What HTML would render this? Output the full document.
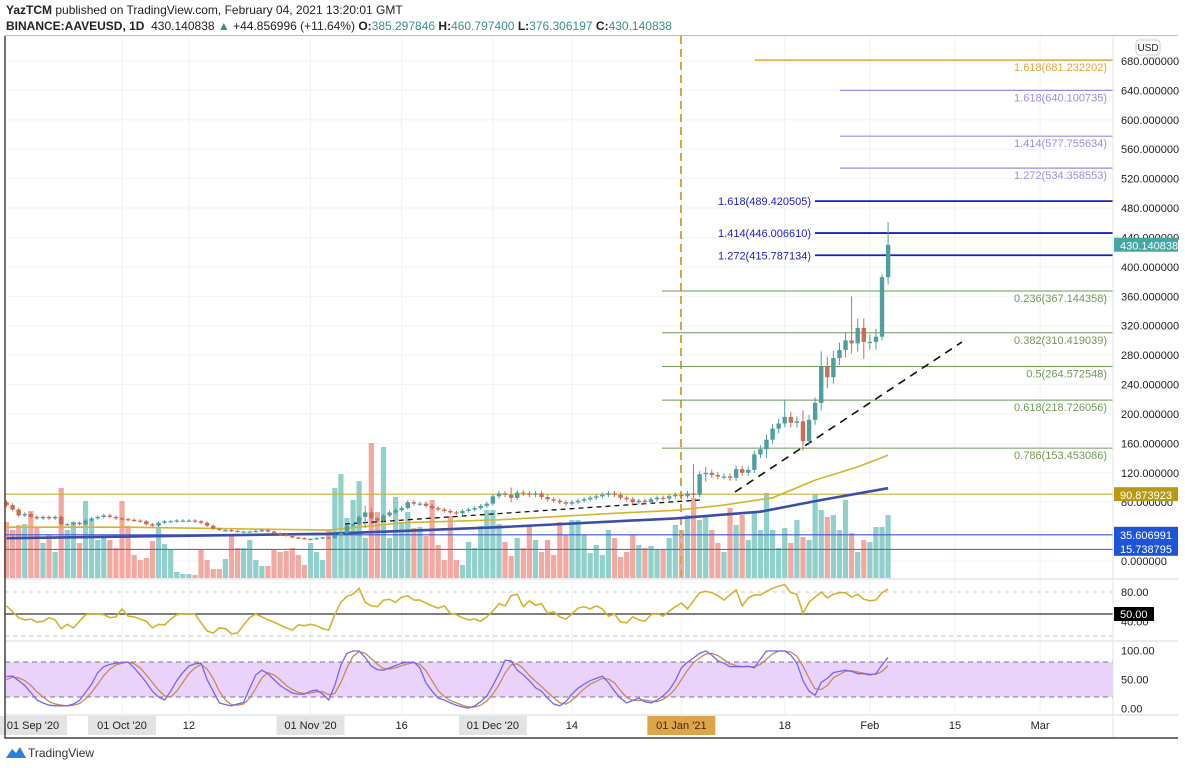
<!DOCTYPE html>
<html><head><meta charset="utf-8"><style>
body{margin:0;background:#fff;width:1185px;height:768px;overflow:hidden;font-family:"Liberation Sans",sans-serif}
#hdr1{position:absolute;left:6px;top:3px;font-size:12px;color:#222}
#hdr2{position:absolute;left:6px;top:19px;font-size:12px;color:#222}
.tv{color:#3a8f8c}
svg{position:absolute;left:0;top:0}
</style></head><body>
<div id="hdr1"><b>YazTCM</b> published on TradingView.com, February 04, 2021 13:20:01 GMT</div>
<div id="hdr2"><b>BINANCE:AAVEUSD, 1D</b>&nbsp; 430.140838 <span class="tv">▲</span> +44.856996 (+11.64%) <b>O:</b><span class="tv">385.297846</span> <b>H:</b><span class="tv">460.797400</span> <b>L:</b><span class="tv">376.306197</span> <b>C:</b><span class="tv">430.140838</span></div>
<svg id="chart" width="1185" height="768"></svg>
<script>
const closes=[76,70,62,64,60,58,60,58,60,50, 50,52,50,55,58,60,62,60,58,57, 56,55,54,50,48,52,54,54,55,55, 55,54,52,48,44,42,42,41,40,40, 40,41,42,40,38,36,34,32,31,30, 30,31,32,31,35,38,48,50,60,66, 58,55,62,66,69,72,80,78,78,75, 72,70,68,66,65,68,70,72,75,78, 88,92,90,86,93,92,90,92,87,84, 82,80,78,80,82,84,86,88,90,92, 90,86,84,80,82,80,84,86,85,88, 90,88,92,90,118,120,117,115,115,113, 125,120,124,145,152,165,180,187,196,188, 190,163,192,215,265,250,276,287,300,296, 317,298,298,305,386,430];
const volumes=[56,48,53,54,67,51,35,43,26,90, 48,56,35,77,58,38,40,38,30,77, 52,23,18,20,37,50,34,29,6,4, 4,3,28,18,9,9,19,42,30,30, 38,18,12,12,28,26,27,30,23,13, 35,26,18,48,90,104,60,78,97,40, 135,66,131,40,81,56,66,50,51,42, 78,33,18,62,18,13,36,30,52,68, 68,54,36,22,40,30,53,38,26,38, 23,56,43,58,58,43,25,33,23,48, 40,21,26,43,33,30,32,29,28,40, 53,48,63,80,58,62,48,35,26,70, 53,63,38,66,48,85,48,30,50,35, 58,41,38,84,68,61,63,48,78,45, 26,38,36,51,51,63];
const rsi=[61,53,45,42,43,39,40,45,42,30, 36,31,40,49,50,50,49,45,46,57, 47,46,43,40,31,36,35,43,49,50, 50,50,38,27,24,31,30,23,24,35, 45,50,46,42,39,35,31,28,35,34, 36,34,30,28,49,66,74,77,85,66, 61,60,69,70,66,73,75,69,69,65, 61,58,61,51,49,45,42,43,40,46, 54,64,61,75,77,60,68,62,64,51, 53,46,43,50,58,60,57,61,57,47, 50,39,38,46,42,40,49,51,47,54, 60,65,57,68,79,81,79,75,69,76, 83,61,72,76,76,81,85,88,90,79, 77,51,66,73,80,72,77,79,79,73, 77,70,68,69,79,84];
const stochK=[55,56,48,40,28,15,10,6,5,5, 5,8,14,28,42,62,72,76,78,80, 80,70,58,45,30,20,15,30,48,62, 73,77,78,50,30,10,7,5,8,11, 35,58,66,60,50,40,33,27,25,25, 30,32,25,15,40,75,95,99,99,88, 73,67,66,70,74,78,80,80,70,44, 30,18,15,10,6,3,1,5,12,22, 40,60,83,82,66,58,48,36,30,18, 8,5,12,25,35,42,48,52,56,45, 30,18,10,14,18,12,10,15,22,32, 48,70,80,87,95,99,92,82,78,72, 72,72,73,70,85,99,99,99,99,92, 78,48,30,23,45,52,62,64,66,64, 60,60,58,60,75,88];
const stochD=[50,54,53,48,40,29,20,12,8,6, 5,6,9,17,28,42,57,68,75,78, 80,77,70,58,45,32,22,20,30,45, 60,70,76,68,52,30,15,7,6,8, 18,35,53,62,58,50,40,33,28,26, 27,29,29,24,26,45,70,90,98,95, 86,76,69,68,70,74,77,79,76,65, 48,31,21,14,10,6,3,3,6,13, 25,41,61,75,77,69,57,47,38,28, 19,10,8,14,24,34,42,47,52,51, 44,31,19,14,14,15,13,12,16,23, 34,50,66,79,87,94,95,91,84,77, 74,72,72,72,76,85,94,99,99,97, 90,73,52,34,33,40,53,59,64,65, 63,61,59,59,64,74];
const wickOverrides=[[145,461,376],[144,390,300],[139,360,282],[135,278,235],[134,285,205],[131,205,150],[128,218,182],[125,172,140],[113,132,86],[140,330,285],[141,330,275],[59,75,45],[60,72,50],[83,100,80],[115,128,108]];
const yellowMAIdx=[0,20,53,65,81,98,110,118,126,133,140,145];
const yellowMA=[46,46,42,52,56,64,69,76,86,110,128,144];
const blueMAIdx=[0,53,81,110,124,134,145];
const blueMA=[31,37,46,58,67,83,99];
const fibGreen=[["0.236",367.144358],["0.382",310.419039],["0.5",264.572548],["0.618",218.726056],["0.786",153.453086]];
const fibBlue=[["1.618",489.420505],["1.414",446.006610],["1.272",415.787134]];
const fibPurple=[["1.618",640.100735],["1.414",577.755634],["1.272",534.358553]];
const fibOrange=[["1.618",681.232202]];
const priceTicks=[0,40,80,120,160,200,240,280,320,360,400,440,480,520,560,600,640,680];
const timeLabels=[["01 Sep '20",-51.5,1],["01 Oct '20",0,1],["12",11,0],["01 Nov '20",31,1],["16",46,0],["01 Dec '20",61,1],["14",74,0],["01 Jan '21",92,2],["18",109,0],["Feb",123,0],["15",137,0],["Mar",151,0]];

const NS="http://www.w3.org/2000/svg";
const svg=document.getElementById('chart');
function mk(tag,attrs,parent){const e=document.createElementNS(NS,tag);for(const k in attrs)e.setAttribute(k,attrs[k]);(parent||svg).appendChild(e);return e;}
const X0=6.5,DX=6.08,RIGHT=1113;
const xOf=i=>X0+DX*i;
const xOct=d=>122+DX*d;
const py=v=>561-v*0.73529;
const ry=v=>614-(v-50)*0.733;
const sy=v=>708.7-v*0.583;

// grid
timeLabels.forEach(t=>{const x=xOct(t[1]);if(x>6&&x<RIGHT){const g=mk('line',{x1:x,x2:x,y1:36,y2:715,stroke:'#eef1f5','stroke-width':1});

}});
priceTicks.forEach(v=>{const g=mk('line',{x1:5,x2:RIGHT,y1:py(v),y2:py(v),stroke:'#f1f3f6'});

});

// volume
closes.forEach((c,i)=>{const o=i?closes[i-1]:80;const h=volumes[i];
const b=mk('rect',{x:xOf(i)-2.6,y:578-h,width:5.2,height:h,fill:c>=o?'#92d0cb':'#f3a9a2'});

});

// horizontal levels
[[90.873923,'#c9b43a'],[35.606991,'#3d55c8'],[15.738795,'#6a62d0']].forEach(l=>{const e=mk('line',{x1:5,x2:RIGHT,y1:py(l[0]),y2:py(l[0]),stroke:l[1],'stroke-width':1.2});

});

// vertical dashed line at 01 Jan
const vl=mk('line',{x1:681,x2:681,y1:36,y2:578,stroke:'#d6a54a','stroke-width':2,'stroke-dasharray':'8,5'});



// fib lines
function fib(list,x1,col,labelMode,fw){list.forEach(f=>{const y=py(f[1]);
const l=mk('line',{x1:x1,x2:RIGHT,y1:y,y2:y,stroke:col,'stroke-width':fw});


const txt=f[0]+'('+f[1].toFixed(6)+')';
let t;
if(labelMode==='left'){t=mk('text',{x:x1-4,y:y+4,'text-anchor':'end','font-size':11,fill:col});}
else{t=mk('text',{x:1107,y:y+11,'text-anchor':'end','font-size':11,fill:col});}
t.textContent=txt;

});}
fib(fibGreen,662,'#6f9a55','right',1);
fib(fibPurple,840,'#9b8fdc','right',1.2);
fib(fibOrange,755,'#e0a63a','right',1.5);
fib(fibBlue,815,'#1c1cc8','left',1.8);

// MAs
function ma(idx,vals,col,w,name){let d='';idx.forEach((ii,k)=>{d+=(k?'L':'M')+xOf(ii).toFixed(1)+','+py(vals[k]).toFixed(1);});
const p=mk('path',{d:d,fill:'none',stroke:col,'stroke-width':w});

}
ma(yellowMAIdx,yellowMA,'#d4b52e',1.6,'moving-average-yellow');
ma(blueMAIdx,blueMA,'#3b4fa8',2.6,'moving-average-blue');

// trend lines
const t1=mk('line',{x1:345,y1:524,x2:700,y2:500,stroke:'#111','stroke-width':1.3,'stroke-dasharray':'5,4'});


const t2=mk('line',{x1:735,y1:492,x2:962,y2:342,stroke:'#111','stroke-width':1.6,'stroke-dasharray':'8,6'});



// candles
closes.forEach((c,i)=>{const o=i?closes[i-1]:80;let hi=Math.max(o,c)*1.035,lo=Math.min(o,c)*0.965;
wickOverrides.forEach(w=>{if(w[0]===i){hi=w[1];lo=w[2];}});
const col=c>=o?'#4f9ea0':'#cc6c55';const x=xOf(i);
const wk=mk('line',{x1:x,x2:x,y1:py(hi),y2:py(lo),stroke:col,'stroke-width':1});


const top=py(Math.max(o,c)),bh=Math.max(1.2,py(Math.min(o,c))-top);
const bd=mk('rect',{x:x-2.2,y:top,width:4.4,height:bh,fill:col});

});

// RSI pane
[[80,'4,4','#c8c8c8'],[20,'4,4','#c8c8c8']].forEach(l=>{const e=mk('line',{x1:5,x2:RIGHT,y1:ry(l[0]),y2:ry(l[0]),stroke:l[2],'stroke-dasharray':l[1]});

});
const r50=mk('line',{x1:5,x2:RIGHT,y1:ry(50),y2:ry(50),stroke:'#555','stroke-width':1.5});


let rd='';rsi.forEach((v,i)=>{rd+=(i?'L':'M')+xOf(i).toFixed(1)+','+ry(v).toFixed(1);});
const rp=mk('path',{d:rd,fill:'none',stroke:'#d4b330','stroke-width':1.6});



// separators
[579,641,715].forEach(y=>{const s=mk('line',{x1:5,x2:1178,y1:y,y2:y,stroke:'#e4e6ea','stroke-width':1.5});

});

// Stoch pane
const band=mk('rect',{x:5,y:sy(80),width:RIGHT-5,height:sy(20)-sy(80),fill:'#ead3fb'});


[80,20].forEach(v=>{const e=mk('line',{x1:5,x2:RIGHT,y1:sy(v),y2:sy(v),stroke:'#777','stroke-dasharray':'5,4'});

});
function sline(arr,col,name){let d='';arr.forEach((v,i)=>{d+=(i?'L':'M')+xOf(i).toFixed(1)+','+sy(v).toFixed(1);});
const p=mk('path',{d:d,fill:'none',stroke:col,'stroke-width':1.3});

}
sline(stochD,'#c48a5a','stoch-d-line');
sline(stochK,'#7466ee','stoch-k-line');

// price axis
const ax=mk('line',{x1:RIGHT,x2:RIGHT,y1:36,y2:738,stroke:'#e0e3e8'});


priceTicks.forEach(v=>{const t=mk('text',{x:1121,y:py(v)+4,'font-size':11,fill:'#222'});
t.textContent=v.toFixed(6);

});
const usd=mk('rect',{x:1136,y:40,width:24,height:15,rx:3,fill:'#fff',stroke:'#ccc'});


const ut=mk('text',{x:1148,y:51,'font-size':10,'text-anchor':'middle',fill:'#222'});ut.textContent='USD';


function badge(y,h,bg,lines,name){const r=mk('rect',{x:1114,y:y,width:64,height:h,fill:bg});


lines.forEach((s,k)=>{const t=mk('text',{x:1120,y:y+12+k*14,'font-size':11,fill:'#fff'});t.textContent=s;

});}
badge(py(430.14)-7,14,'#41a8a2',['430.140838'],'last-price-badge');
badge(py(90.87)-7,14,'#b79a12',['90.873923'],'level-badge');
badge(py(35.61)-8,29,'#1d55d6',['35.606991','15.738795'],'level-badge-blue');
[[80,ry(80)],[40,ry(40)]].forEach(a=>{const t=mk('text',{x:1121,y:a[1]+4,'font-size':11,fill:'#222'});t.textContent=a[0].toFixed(2);

});
const b50=mk('rect',{x:1114,y:ry(50)-7,width:40,height:14,fill:'#000'});


const b50t=mk('text',{x:1120,y:ry(50)+4,'font-size':11,fill:'#fff'});b50t.textContent='50.00';


[100,50,0].forEach(v=>{const t=mk('text',{x:1121,y:sy(v)+4,'font-size':11,fill:'#222'});t.textContent=v.toFixed(2);

});

// time axis
timeLabels.forEach(t=>{let x=xOct(t[1]);if(x<33)x=33;
if(t[2]){const w=t[0].length*6+8;const r=mk('rect',{x:x-w/2,y:716,width:w,height:19,fill:t[2]===2?'#dca54c':'#e2e3e5'});

}
const tx=mk('text',{x:x,y:729,'font-size':11,'text-anchor':'middle',fill:t[2]===2?'#4a2a00':'#222'});tx.textContent=t[0];

});

// frame
const fr=mk('path',{d:'M5,36 L5,738 L1178,738',fill:'none',stroke:'#444','stroke-width':1.5});


const ft=mk('line',{x1:5,x2:1178,y1:35.5,y2:35.5,stroke:'#bbb'});



// footer logo
const lg=mk('path',{d:'M6,758 L12,749 L16,753 L20,747 L26,758 Z',fill:'#2a7de1'});


const lt=mk('text',{x:28,y:757,'font-size':12,fill:'#333'});lt.textContent='TradingView';


</script>
</body></html>
